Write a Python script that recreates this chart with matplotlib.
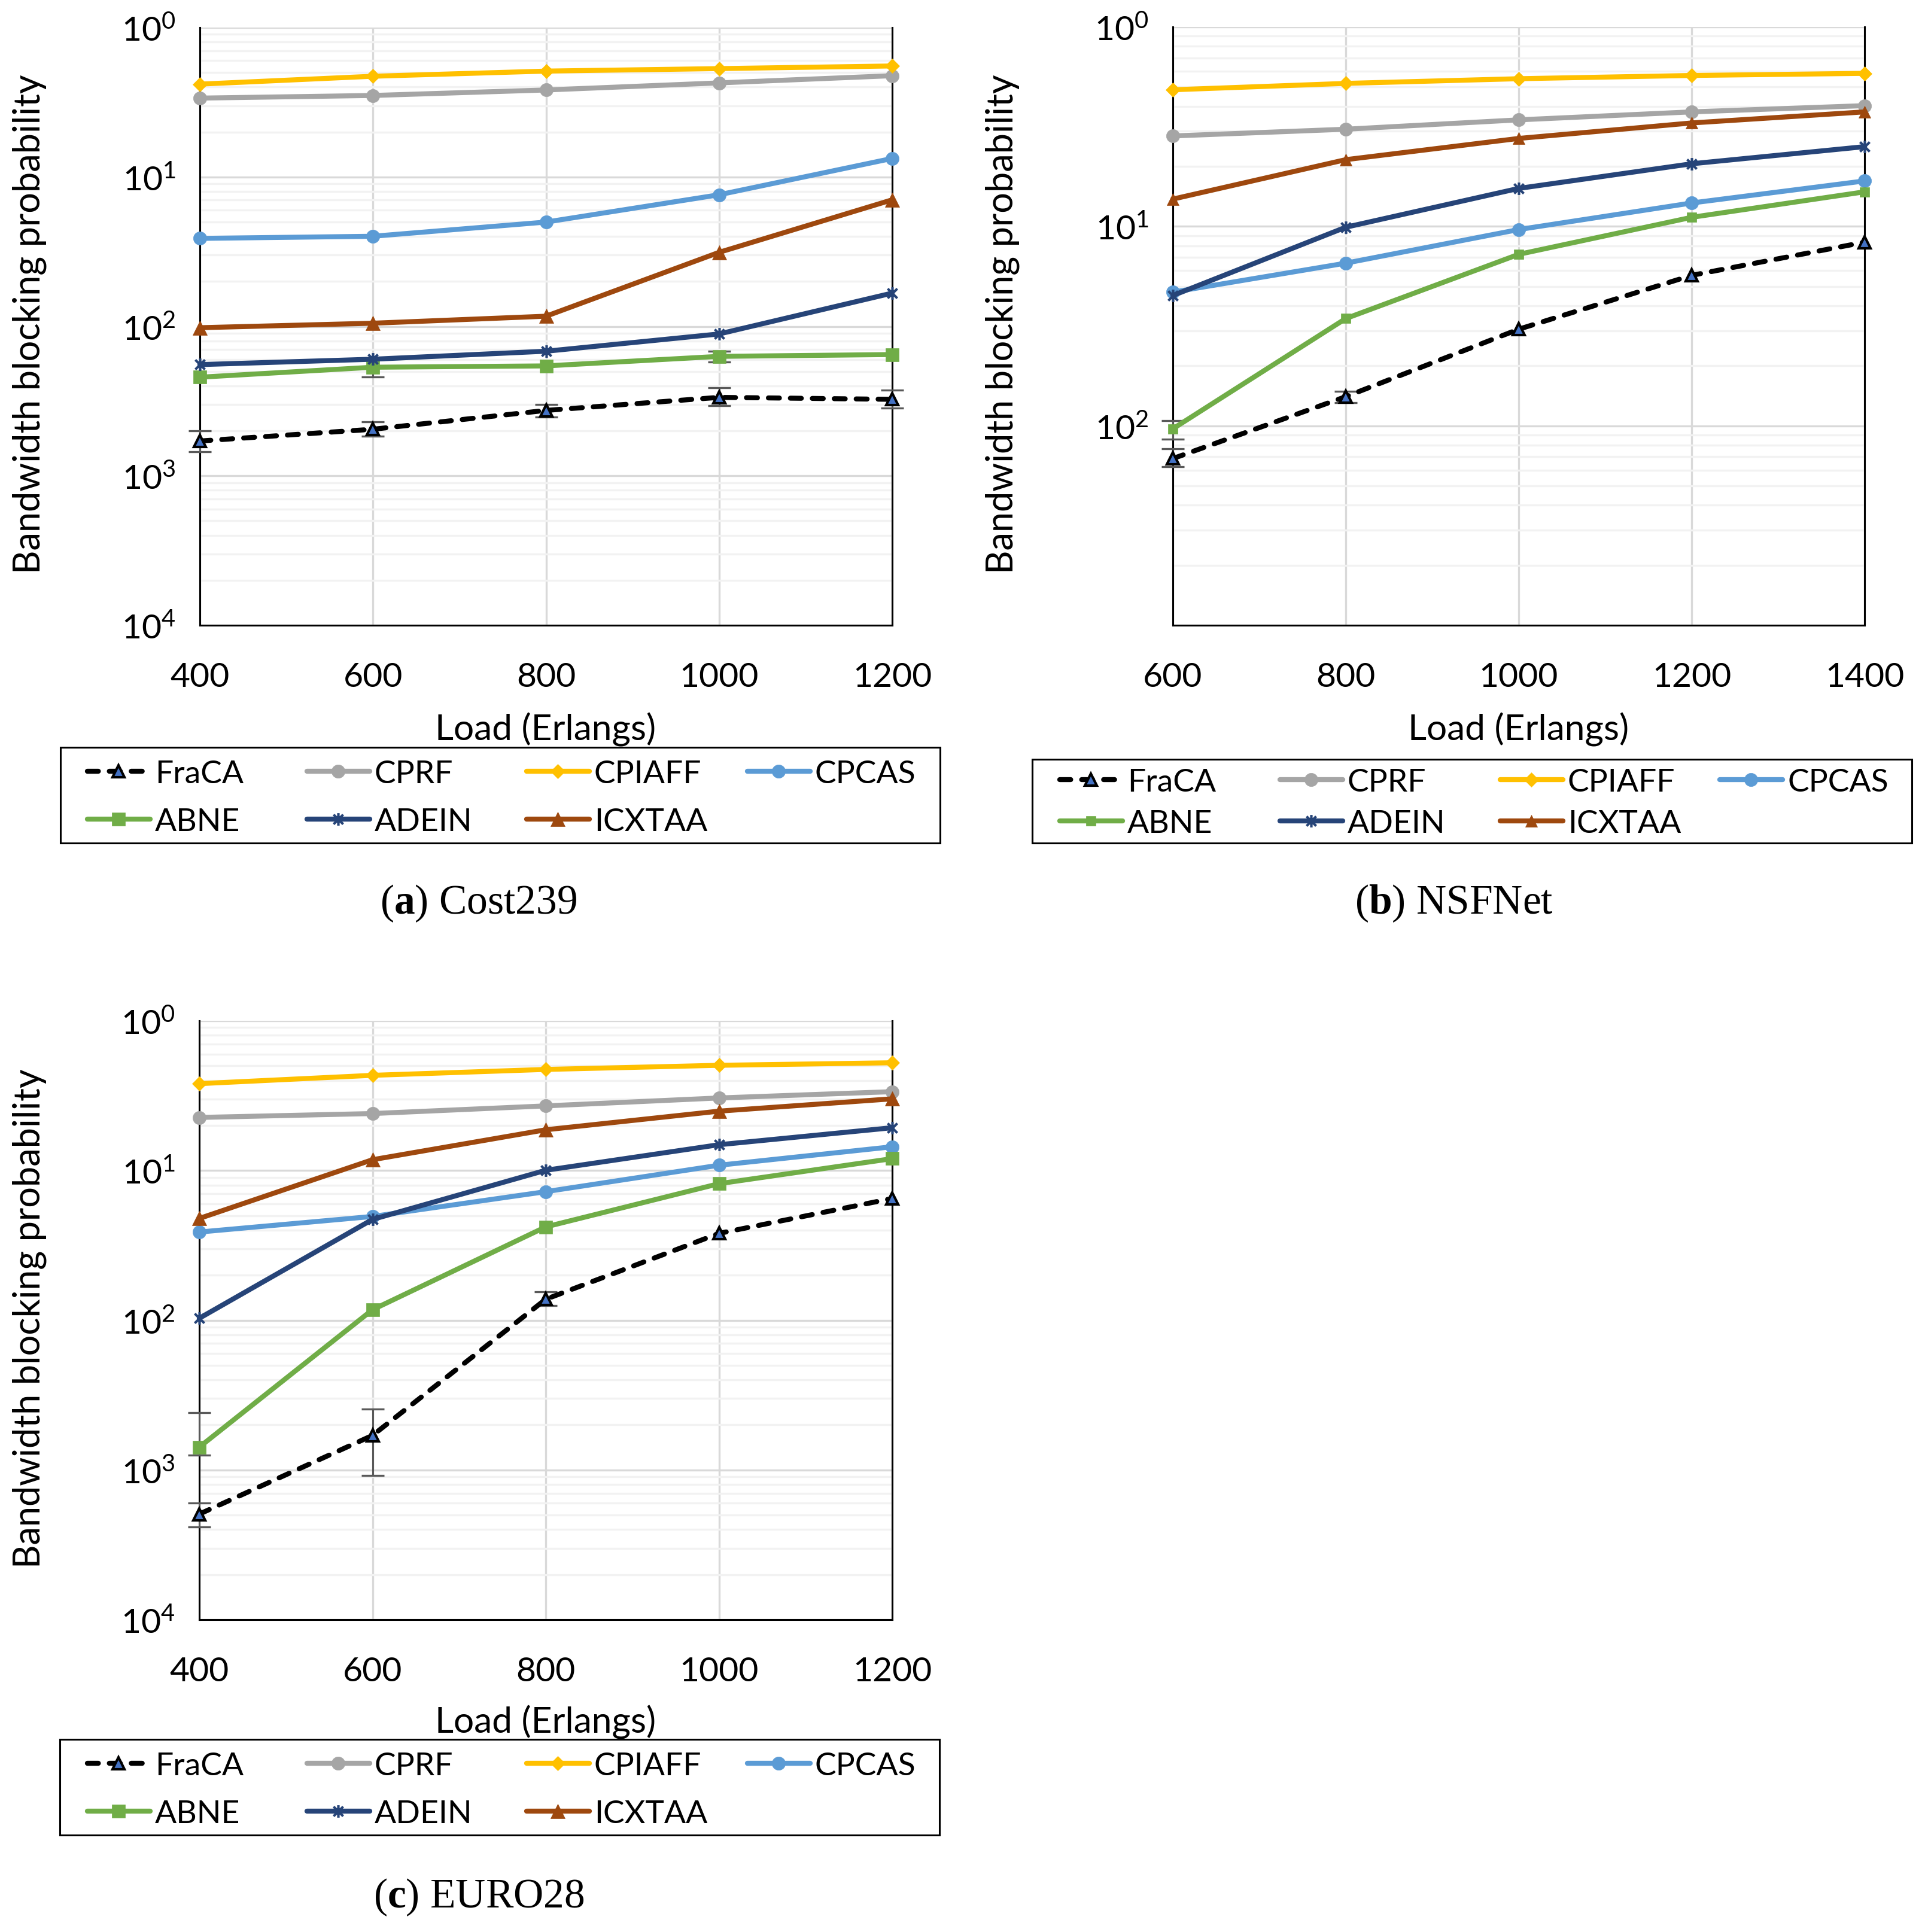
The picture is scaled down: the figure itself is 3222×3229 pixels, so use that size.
import numpy as np
import matplotlib
matplotlib.use("Agg")
import matplotlib.pyplot as plt
from matplotlib.ticker import LogLocator, NullFormatter, FixedLocator
from matplotlib.lines import Line2D
from matplotlib.patches import Rectangle
from matplotlib.path import Path

# ---------------- data ----------------
series_names = ["FraCA", "CPRF", "CPIAFF", "CPCAS", "ABNE", "ADEIN", "ICXTAA"]

loads_a = [400, 600, 800, 1000, 1200]
fraca_a = [0.00171, 0.00205, 0.00274, 0.00335, 0.00325]
cprf_a = [0.337, 0.351, 0.382, 0.426, 0.476]
cpiaff_a = [0.418, 0.472, 0.511, 0.531, 0.553]
cpcas_a = [0.0388, 0.0401, 0.0499, 0.076, 0.133]
abne_a = [0.00457, 0.00533, 0.00544, 0.0063, 0.00648]
adein_a = [0.00555, 0.00603, 0.00682, 0.0089, 0.0167]
icxtaa_a = [0.0098, 0.0105, 0.0117, 0.0313, 0.0703]
fraca_a_lo = [0.00145, 0.00184, 0.00247, 0.00296, 0.00283]
fraca_a_hi = [0.00201, 0.00230, 0.00300, 0.00390, 0.00375]
abne_a_lo = [np.nan, 0.00459, np.nan, 0.0058, np.nan]
abne_a_hi = [np.nan, 0.00600, np.nan, 0.0068, np.nan]

loads_b = [600, 800, 1000, 1200, 1400]
fraca_b = [0.00685, 0.0140, 0.0305, 0.0568, 0.0833]
cprf_b = [0.284, 0.307, 0.342, 0.375, 0.403]
cpiaff_b = [0.484, 0.521, 0.550, 0.571, 0.585]
cpcas_b = [0.0468, 0.0654, 0.0964, 0.131, 0.169]
abne_b = [0.00966, 0.0345, 0.0724, 0.111, 0.149]
adein_b = [0.045, 0.099, 0.155, 0.206, 0.251]
icxtaa_b = [0.137, 0.216, 0.276, 0.330, 0.375]
fraca_b_lo = [0.00622, 0.0131, np.nan, np.nan, np.nan]
fraca_b_hi = [0.00766, 0.0149, np.nan, np.nan, np.nan]
abne_b_lo = [0.0086, np.nan, np.nan, np.nan, np.nan]
abne_b_hi = [0.0106, np.nan, np.nan, np.nan, np.nan]

loads_c = [400, 600, 800, 1000, 1200]
fraca_c = [0.000507, 0.0017, 0.0138, 0.038, 0.065]
cprf_c = [0.226, 0.240, 0.270, 0.305, 0.336]
cpiaff_c = [0.380, 0.432, 0.473, 0.504, 0.524]
cpcas_c = [0.0388, 0.0493, 0.0722, 0.1084, 0.144]
abne_c = [0.00142, 0.01175, 0.042, 0.0816, 0.120]
adein_c = [0.0103, 0.0471, 0.1003, 0.1486, 0.193]
icxtaa_c = [0.0478, 0.118, 0.187, 0.249, 0.301]
fraca_c_lo = [0.000416, 0.00092, 0.0125, np.nan, np.nan]
fraca_c_hi = [0.00060, 0.00254, 0.0155, np.nan, np.nan]
abne_c_lo = [0.00126, np.nan, np.nan, np.nan, np.nan]
abne_c_hi = [0.00242, np.nan, np.nan, np.nan, np.nan]

ytick_vals = [1, 0.1, 0.01, 0.001, 0.0001]
ytick_labels = [r"$\mathregular{10^{0}}$", r"$\mathregular{10^{1}}$",
                r"$\mathregular{10^{2}}$", r"$\mathregular{10^{3}}$",
                r"$\mathregular{10^{4}}$"]
xlabel = "Load (Erlangs)"
ylabel = "Bandwidth blocking probability"
captions = [("a", "Cost239"), ("b", "NSFNet"), ("c", "EURO28")]

# ---------------- style ----------------
plt.rcParams["font.family"] = ["Lato", "DejaVu Sans"]
plt.rcParams["mathtext.fontset"] = "custom"
plt.rcParams["mathtext.bf"] = "Liberation Serif:bold"
plt.rcParams["mathtext.rm"] = "Liberation Serif"

W, H = 3222, 3230
DPI = 100
fig = plt.figure(figsize=(W / DPI, H / DPI), dpi=DPI)


def fx(px):
    return px / W


def fy(py):
    return 1 - py / H


star = Path([(-1, -1), (1, 1), (-1, 1), (1, -1), (0, -1.3), (0, 1.3)],
            [Path.MOVETO, Path.LINETO, Path.MOVETO, Path.LINETO, Path.MOVETO, Path.LINETO])

colors = {"FraCA": "black", "CPRF": "#A5A5A5", "CPIAFF": "#FFC000", "CPCAS": "#5B9BD5",
          "ABNE": "#70AD47", "ADEIN": "#264478", "ICXTAA": "#9E480E"}
markers = {"FraCA": "^", "CPRF": "o", "CPIAFF": "D", "CPCAS": "o",
           "ABNE": "s", "ADEIN": star, "ICXTAA": "^"}
LW = 6.0
FS = 41


def style(name, ms):
    d = dict(color=colors[name], lw=LW, marker=markers[name], ms=ms[name],
             mfc=colors[name], mec=colors[name], mew=0.5)
    if name == "FraCA":
        d.update(ls=(0, (2.2, 2.2)), mfc="#4472C4", mec="black", mew=3.0,
                 dash_capstyle="round")
    else:
        d.update(ls="-", solid_capstyle="round", solid_joinstyle="round")
    if name == "ADEIN":
        d.update(mew=3.0, mfc="none")
    return d


ms_ac = {"FraCA": 14, "CPRF": 16, "CPIAFF": 12, "CPCAS": 16, "ABNE": 16, "ADEIN": 15, "ICXTAA": 17}
ms_b = {"FraCA": 14, "CPRF": 16, "CPIAFF": 12, "CPCAS": 16, "ABNE": 11, "ADEIN": 15, "ICXTAA": 14}


def panel(rect, loads, data, errs, ylim, nlabels, ms):
    l, t, r, b = rect
    ax = fig.add_axes([fx(l), fy(b), fx(r - l), (b - t) / H])
    ax.set_yscale("log")
    ax.set_xticks(loads)
    ax.set_xticklabels([str(v) for v in loads])
    ax.yaxis.set_major_locator(FixedLocator(ytick_vals))
    labs = [lab if i < nlabels else "" for i, lab in enumerate(ytick_labels)]
    ax.set_yticks(ytick_vals)
    ax.set_yticklabels(labs)
    ax.yaxis.set_minor_locator(LogLocator(base=10, subs=np.arange(2, 10)))
    ax.yaxis.set_minor_formatter(NullFormatter())
    ax.grid(which="major", axis="both", color="#D9D9D9", lw=2.4)
    ax.grid(which="minor", axis="y", color="#F2F2F2", lw=2.4)
    ax.set_axisbelow(True)
    ax.spines["top"].set_visible(False)
    for s in ("left", "right", "bottom"):
        ax.spines[s].set_color("black")
        ax.spines[s].set_linewidth(2.2)
        ax.spines[s].set_zorder(2.5)
    ax.tick_params(which="both", length=0)
    ax.tick_params(axis="x", labelsize=FS, pad=44)
    ax.tick_params(axis="y", labelsize=FS, pad=29)
    # error bars
    for name, (lo, hi) in errs.items():
        v = np.array(data[name])
        yerr = np.vstack([v - np.array(lo), np.array(hi) - v])
        eb = ax.errorbar(loads, v, yerr=yerr, fmt="none", ecolor="#595959",
                         elinewidth=2.2, capsize=14, capthick=2.4, zorder=2.8)
        for art in eb.lines[1] + eb.lines[2]:
            art.set_clip_on(False)
    for i, name in enumerate(series_names):
        ax.plot(loads, data[name], clip_on=False, zorder=3 + i * 0.1, **style(name, ms))
    ax.set_xlim(loads[0], loads[-1])
    ax.set_ylim(*ylim)
    return ax


def legend(box, rows, cols, ms):
    x0, y0, x1, y1 = box
    fig.patches.append(Rectangle((fx(x0), fy(y1)), (x1 - x0) / W, (y1 - y0) / H,
                                 transform=fig.transFigure, fill=False,
                                 ec="black", lw=2.2))
    for i, name in enumerate(series_names):
        r, c = divmod(i, 4)
        x, y = cols[c], rows[r]
        st = style(name, ms)
        mk = dict(marker=st.pop("marker"), ms=st.pop("ms"), mfc=st.pop("mfc"),
                  mec=st.pop("mec"), mew=st.pop("mew"))
        fig.add_artist(Line2D([fx(x), fx(x + 105)], [fy(y), fy(y)],
                              transform=fig.transFigure, **st))
        fig.add_artist(Line2D([fx(x + 52)], [fy(y)], transform=fig.transFigure,
                              ls="none", **mk))
        fig.text(fx(x + 113), fy(y + 19), name, fontsize=38.5, ha="left", va="baseline")


def caption(cx, cy, letter, word):
    fig.text(fx(cx), fy(cy), "(" + r"$\mathbf{" + letter + "}$" + ") " + word,
             family="Liberation Serif", fontsize=50, ha="center", va="center")


data_a = dict(zip(series_names, [fraca_a, cprf_a, cpiaff_a, cpcas_a, abne_a, adein_a, icxtaa_a]))
data_b = dict(zip(series_names, [fraca_b, cprf_b, cpiaff_b, cpcas_b, abne_b, adein_b, icxtaa_b]))
data_c = dict(zip(series_names, [fraca_c, cprf_c, cpiaff_c, cpcas_c, abne_c, adein_c, icxtaa_c]))

panel((334, 47, 1491, 1046), loads_a, data_a,
      {"FraCA": (fraca_a_lo, fraca_a_hi), "ABNE": (abne_a_lo, abne_a_hi)},
      (1e-4, 1), 5, ms_ac)
panel((1960, 46, 3116, 1046), loads_b, data_b,
      {"FraCA": (fraca_b_lo, fraca_b_hi), "ABNE": (abne_b_lo, abne_b_hi)},
      (1e-3, 1), 3, ms_b)
panel((333, 1707, 1491, 2708), loads_c, data_c,
      {"FraCA": (fraca_c_lo, fraca_c_hi), "ABNE": (abne_c_lo, abne_c_hi)},
      (1e-4, 1), 5, ms_ac)

# axis titles
XFS = 43.5
fig.text(fx(912), fy(1238), xlabel, fontsize=XFS, ha="center", va="baseline")
fig.text(fx(2538), fy(1238), xlabel, fontsize=XFS, ha="center", va="baseline")
fig.text(fx(912), fy(2897), xlabel, fontsize=XFS, ha="center", va="baseline")
fig.text(fx(49), fy(542), ylabel, fontsize=44, rotation=90, ha="center", va="center")
fig.text(fx(1675), fy(542), ylabel, fontsize=44, rotation=90, ha="center", va="center")
fig.text(fx(49), fy(2204), ylabel, fontsize=44, rotation=90, ha="center", va="center")

legend((101, 1250, 1571, 1410), (1290, 1370), (146, 513, 880, 1249), ms_ac)
legend((1725, 1270, 3195, 1410), (1304, 1373), (1771, 2139, 2507, 2874), ms_b)
legend((100, 2908, 1570, 3068), (2948, 3028), (146, 513, 880, 1249), ms_ac)

caption(800, 1510, *captions[0])
caption(2430, 1510, *captions[1])
caption(800, 3171, *captions[2])

fig.savefig("out.png", dpi=DPI)
